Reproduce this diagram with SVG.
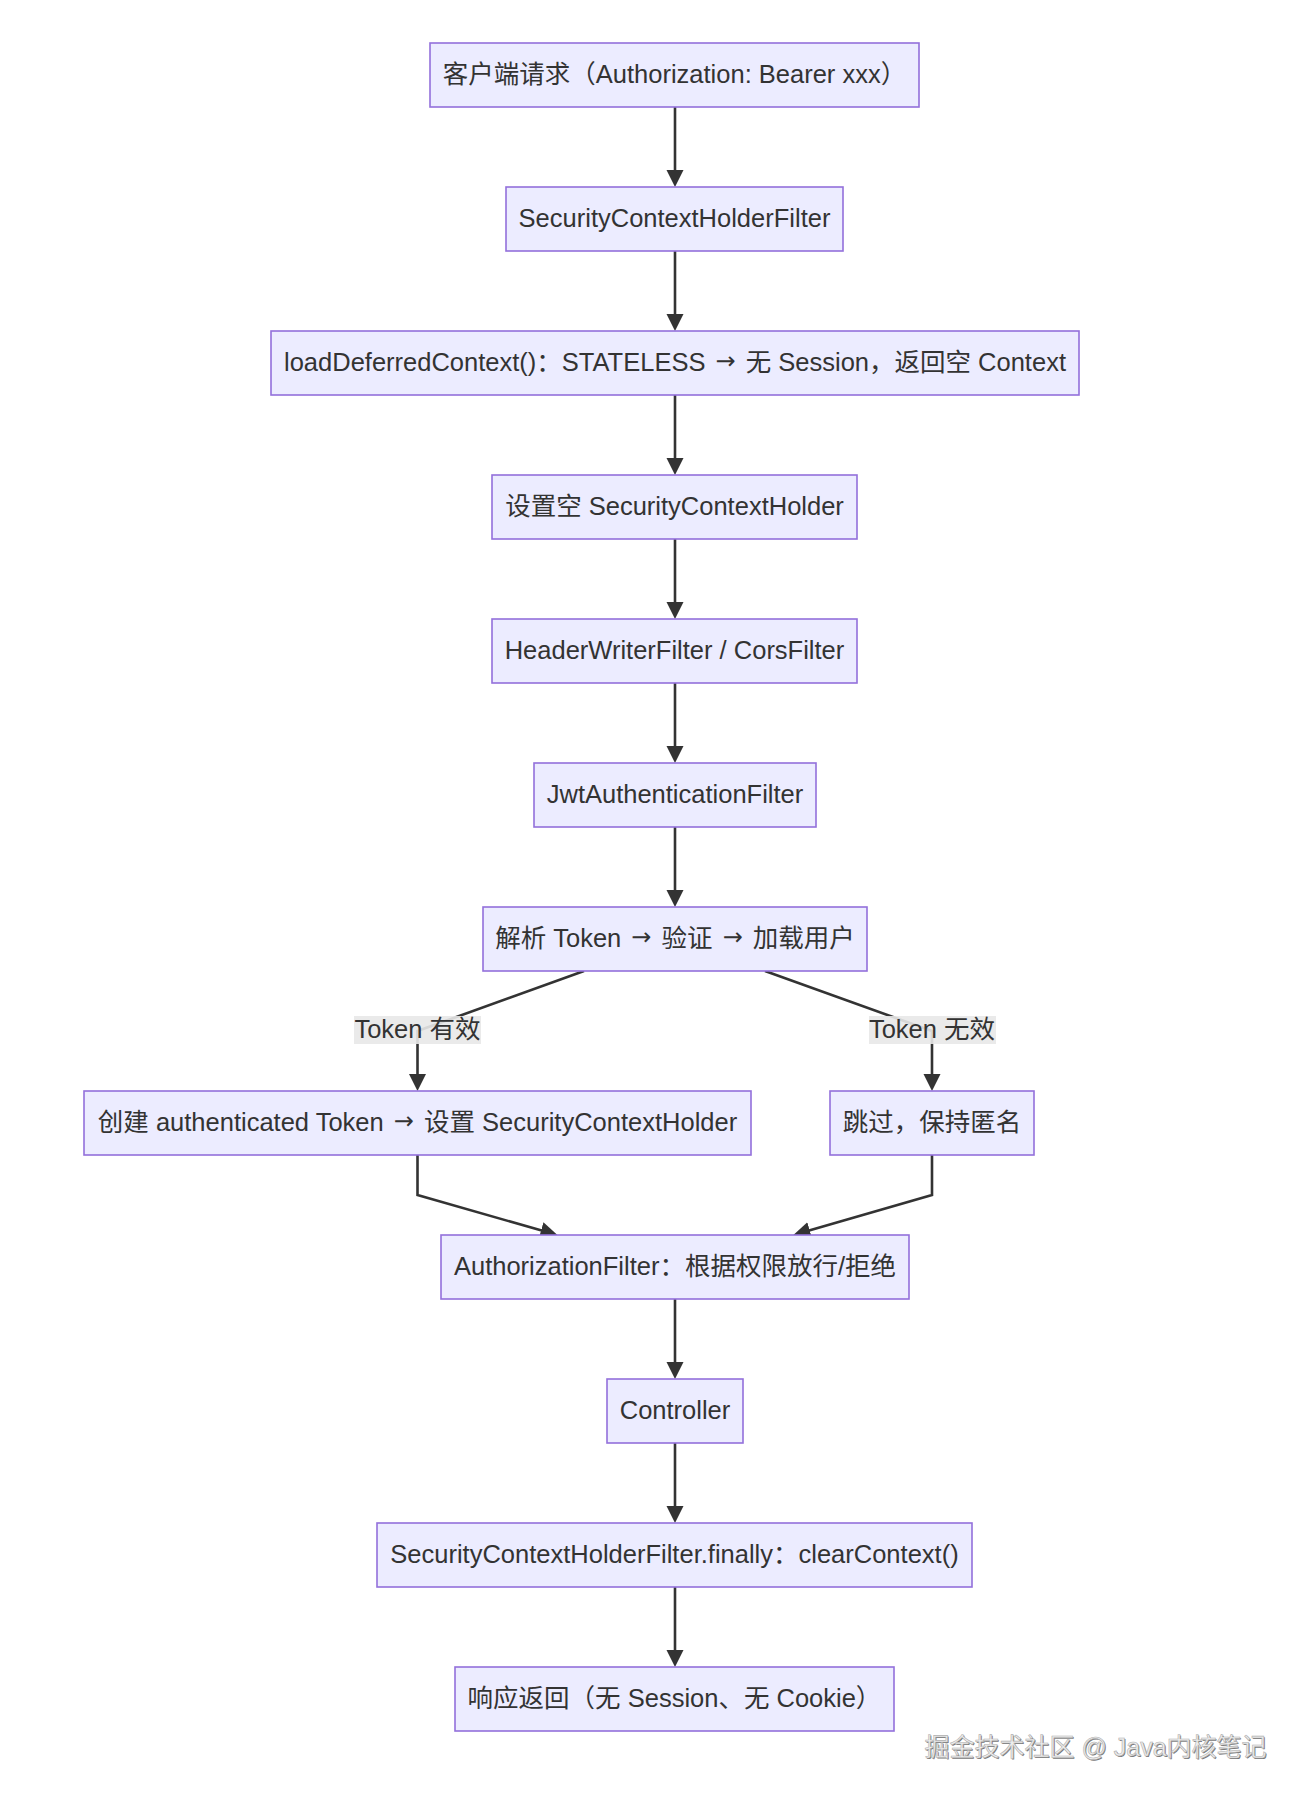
<svg xmlns="http://www.w3.org/2000/svg" width="1306" height="1800" viewBox="0 0 1306 1800">
<style>
.node rect{fill:#ECECFF;stroke:#9370DB;stroke-width:1.6;}
.node text, .lbl text{font-family:"Liberation Sans","Noto Sans CJK SC",sans-serif;font-size:25.5px;fill:#333;text-anchor:middle;}
.ar{font-family:"DejaVu Sans",sans-serif;font-size:24px;}
.edge{fill:none;stroke:#333;stroke-width:2.6;marker-end:url(#arrow);}
.lbl rect{fill:#e8e8e8;fill-opacity:0.9;}
.wm{font-family:"Liberation Sans","Noto Sans CJK SC",sans-serif;font-size:25px;}
</style>
<defs>
<marker id="arrow" viewBox="0 0 10 10" refX="4.1" refY="5" markerWidth="17" markerHeight="18" markerUnits="userSpaceOnUse" orient="auto">
<path d="M0,0 L10,5 L0,10 z" fill="#333"/>
</marker>
</defs>
<rect x="0" y="0" width="1306" height="1800" fill="#ffffff"/>
<g id="connectors">
<path class="edge" d="M675,107 L675,177"/>
<path class="edge" d="M675,251 L675,321"/>
<path class="edge" d="M675,395 L675,465"/>
<path class="edge" d="M675,539 L675,609"/>
<path class="edge" d="M675,683 L675,753"/>
<path class="edge" d="M675,827 L675,897"/>
<path class="edge" d="M584,971 L417.5,1031 L417.5,1081"/>
<path class="edge" d="M765,971 L932,1031 L932,1081"/>
<path class="edge" d="M417.5,1155 L417.5,1195 L547.8,1232.3"/>
<path class="edge" d="M932,1155 L932,1195 L803,1232.3"/>
<path class="edge" d="M675,1299 L675,1369"/>
<path class="edge" d="M675,1443 L675,1513"/>
<path class="edge" d="M675,1587 L675,1657"/>
</g>
<g id="edge-labels">
<g class="lbl" id="label-valid"><rect x="354" y="1016" width="127" height="28"/><text x="417.5" y="1037.5">Token 有效</text></g>
<g class="lbl" id="label-invalid"><rect x="869" y="1016" width="127" height="28"/><text x="932" y="1037.5">Token 无效</text></g>
</g>
<g class="node" id="n1"><rect x="430" y="43" width="489" height="64"/><text x="674.5" y="82.5">客户端请求（Authorization: Bearer xxx）</text></g>
<g class="node" id="n2"><rect x="506" y="187" width="337" height="64"/><text x="674.5" y="226.5">SecurityContextHolderFilter</text></g>
<g class="node" id="n3"><rect x="271" y="331" width="808" height="64"/><text x="675" y="370.5">loadDeferredContext()：STATELESS <tspan class="ar" dx="3" dy="-2">→</tspan><tspan dx="3" dy="2"> 无 Session，返回空 Context</tspan></text></g>
<g class="node" id="n4"><rect x="492" y="475" width="365" height="64"/><text x="674.5" y="514.5">设置空 SecurityContextHolder</text></g>
<g class="node" id="n5"><rect x="492" y="619" width="365" height="64"/><text x="674.5" y="658.5">HeaderWriterFilter / CorsFilter</text></g>
<g class="node" id="n6"><rect x="534" y="763" width="282" height="64"/><text x="675" y="802.5">JwtAuthenticationFilter</text></g>
<g class="node" id="n7"><rect x="483" y="907" width="384" height="64"/><text x="675" y="946.5">解析 Token <tspan class="ar" dx="3" dy="-2">→</tspan><tspan dx="3" dy="2"> 验证 </tspan><tspan class="ar" dx="3" dy="-2">→</tspan><tspan dx="3" dy="2"> 加载用户</tspan></text></g>
<g class="node" id="n8"><rect x="84" y="1091" width="667" height="64"/><text x="417.5" y="1130.5">创建 authenticated Token <tspan class="ar" dx="3" dy="-2">→</tspan><tspan dx="3" dy="2"> 设置 SecurityContextHolder</tspan></text></g>
<g class="node" id="n9"><rect x="830" y="1091" width="204" height="64"/><text x="932" y="1130.5">跳过，保持匿名</text></g>
<g class="node" id="n10"><rect x="441" y="1235" width="468" height="64"/><text x="675" y="1274.5">AuthorizationFilter：根据权限放行/拒绝</text></g>
<g class="node" id="n11"><rect x="607" y="1379" width="136" height="64"/><text x="675" y="1418.5">Controller</text></g>
<g class="node" id="n12"><rect x="377" y="1523" width="595" height="64"/><text x="674.5" y="1562.5">SecurityContextHolderFilter.finally：clearContext()</text></g>
<g class="node" id="n13"><rect x="455" y="1667" width="439" height="64"/><text x="674.5" y="1706.5">响应返回（无 Session、无 Cookie）</text></g>
<g id="watermark">
<text class="wm" x="1096.5" y="1756.5" text-anchor="middle" fill="#777">掘金技术社区 @ Java内核笔记</text>
<text class="wm" x="1095.5" y="1755.5" text-anchor="middle" fill="#eeeeee" stroke="#b0b0b0" stroke-width="0.6">掘金技术社区 @ Java内核笔记</text>
</g>
</svg>
